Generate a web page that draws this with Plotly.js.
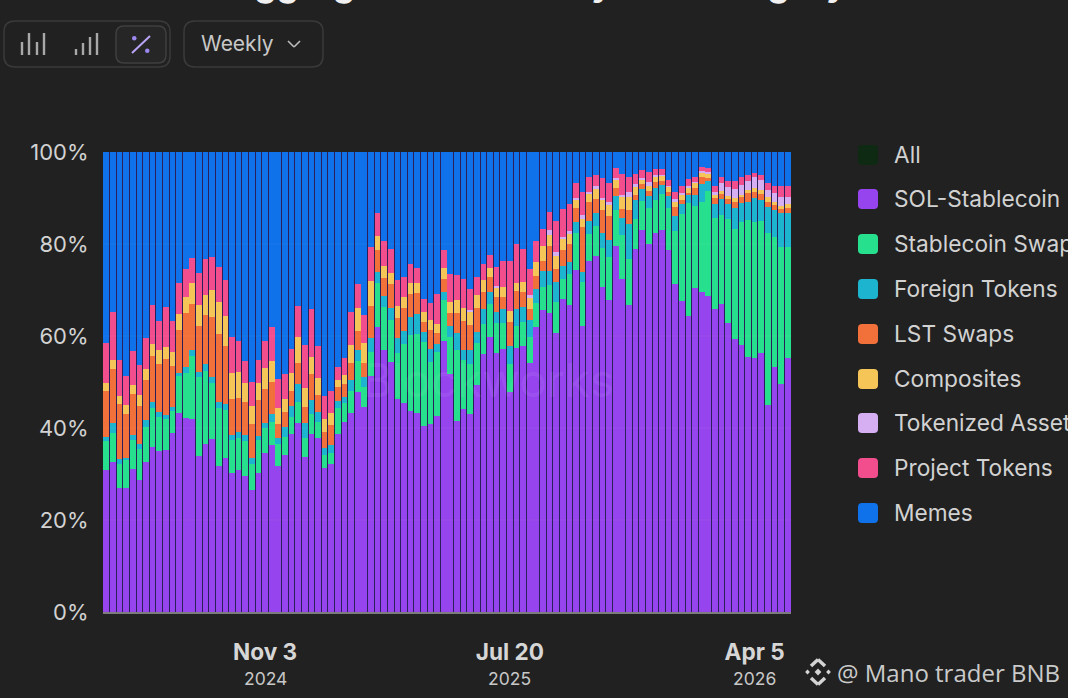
<!DOCTYPE html>
<html>
<head>
<meta charset="utf-8">
<script src="https://cdn.plot.ly/plotly-3.0.1.min.js"></script>
<style>html,body{margin:0;padding:0;background:#212121;overflow:hidden}#chart{width:1068px;height:698px}</style>
</head>
<body>
<div id="chart"></div>
<script>
const firstWeek = '2024-05-19';
const tickDates = ['2024-11-03', '2025-07-20', '2026-04-05'];
const tickMonthDay = ['Nov 3', 'Jul 20', 'Apr 5'];
const tickYears = ['2024', '2025', '2026'];
const percentTicks = [0, 20, 40, 60, 80, 100];
const percentLabels = ['0%', '20%', '40%', '60%', '80%', '100%'];
const seriesNames = ['SOL-Stablecoin', 'Stablecoin Swaps', 'Foreign Tokens', 'LST Swaps', 'Composites', 'Tokenized Assets', 'Project Tokens', 'Memes'];
const seriesColors = ['#9645EE', '#27E08D', '#1DB4CF', '#F2703A', '#F5C558', '#D6AEF2', '#F24E8D', '#0F72EA'];

const solStablecoin = [30.9,32.7,26.9,27.0,31.0,28.8,32.7,35.8,35.1,35.2,38.8,43.2,42.1,41.9,33.9,36.5,37.5,31.7,33.6,30.1,30.9,29.6,26.5,30.1,34.5,36.2,31.8,34.1,38.7,41.2,33.8,38.6,37.9,31.2,32.3,38.6,41.2,43.2,47.8,44.6,51.4,62.0,57.0,54.3,46.3,45.4,43.7,43.2,40.5,40.9,42.6,59.0,51.7,41.5,44.1,43.0,49.3,56.0,59.9,56.4,57.2,47.8,57.3,57.8,54.1,62.0,65.7,64.9,60.6,68.2,66.7,74.3,62.2,76.2,77.5,70.7,67.8,79.6,72.5,66.9,78.9,83.0,80.1,82.5,83.0,78.6,71.2,67.6,64.3,70.5,69.4,68.7,65.9,66.9,62.6,59.3,58.0,55.5,55.1,56.4,45.0,53.3,49.6,55.1];
const stablecoinSwaps = [6.2,6.4,5.2,6.0,6.5,6.6,7.6,8.5,7.4,6.7,4.9,8.0,9.8,13.6,17.2,15.9,12.2,12.5,10.4,7.2,6.9,7.6,5.6,7.2,5.4,5.0,4.6,4.0,3.6,4.6,4.1,4.3,3.3,2.9,2.2,5.7,4.1,4.9,6.7,4.3,5.2,9.4,9.4,9.2,10.1,12.9,16.5,17.2,18.3,13.6,13.8,8.8,8.2,15.4,10.7,10.9,9.1,6.5,7.1,6.5,5.8,6.2,4.9,5.1,5.7,5.2,5.1,6.0,6.9,4.3,6.7,8.0,9.6,5.9,6.5,8.5,9.4,7.8,9.6,10.0,6.5,6.4,7.8,7.0,7.8,9.2,11.6,18.8,24.6,17.8,19.6,22.9,19.7,19.3,22.6,23.8,26.8,29.7,29.7,28.6,37.5,28.3,29.6,24.1];
const foreignTokens = [0.9,2.0,1.1,0.5,0.9,1.1,1.4,1.4,1.1,1.0,0.9,0.7,1.4,1.4,1.1,1.4,1.4,1.3,1.2,1.2,1.3,1.3,1.3,0.9,1.2,1.8,1.3,2.2,2.4,3.8,3.1,3.1,2.2,1.6,1.8,1.6,1.4,2.4,2.5,2.2,2.9,2.5,2.4,2.5,3.2,2.8,3.8,4.3,2.2,2.8,1.8,1.8,2.4,3.8,2.2,3.2,2.5,3.3,2.7,2.3,3.0,3.8,3.7,3.3,3.6,3.0,3.3,3.0,4.2,2.9,2.7,2.4,2.2,2.9,2.8,3.3,3.5,3.1,3.7,7.5,4.0,2.5,2.5,2.7,2.0,2.7,3.3,2.2,1.7,2.4,3.9,2.1,3.0,3.6,3.4,4.7,4.1,4.0,5.1,4.6,5.7,5.8,7.5,7.5];
const lstSwaps = [10.1,11.8,12.0,9.6,9.1,8.3,8.7,9.9,10.4,12.0,8.8,9.3,11.6,10.0,9.9,10.7,13.0,14.8,12.7,7.8,7.4,7.0,7.5,7.8,7.3,7.0,3.1,3.3,3.4,4.6,3.6,5.6,3.8,3.3,4.5,3.1,2.9,3.6,4.1,2.9,7.1,4.7,3.8,5.4,4.4,4.9,5.1,4.6,2.2,4.1,2.3,2.7,2.7,4.3,6.4,5.3,5.2,3.8,3.1,3.3,2.7,5.4,3.8,3.4,2.5,2.9,2.2,5.4,2.9,3.3,3.8,3.0,9.6,4.2,3.0,4.9,5.2,1.7,2.0,3.0,1.2,1.1,1.1,1.2,0.9,0.7,1.9,0.9,0.4,1.4,1.5,0.8,1.3,1.1,0.9,1.3,1.3,1.8,1.3,1.2,1.1,1.1,0.8,1.1];
const composites = [1.7,2.0,1.8,1.8,1.8,2.4,2.5,2.5,3.0,2.8,3.1,3.6,3.6,4.6,4.6,4.3,5.9,7.1,6.5,5.6,5.8,4.3,3.8,3.8,4.6,4.5,3.6,2.8,3.8,5.6,4.1,3.8,3.6,2.9,2.4,1.4,1.8,4.0,4.9,4.5,5.4,3.1,2.8,2.4,2.5,2.4,2.3,2.3,2.2,2.2,2.0,2.4,2.4,2.8,2.7,2.9,2.8,2.4,2.1,2.0,2.0,2.2,1.8,2.0,2.3,3.0,3.3,2.5,2.9,2.4,2.2,1.8,1.9,1.6,2.1,2.2,2.5,1.7,2.4,2.9,1.6,0.9,1.2,1.1,1.0,1.1,1.2,1.1,1.1,1.1,0.9,0.9,0.7,0.7,0.7,0.9,0.5,0.7,0.9,0.9,0.9,0.7,0.7,0.7];
const tokenizedAssets = [0,0,0,0,0,0,0,0,0,0,0,0,0,0,0,0,0,0,0,0,0,0,0,0,0,0,0,0,0,0,0,0,0,0,0,0,0,0,0,0,0,0,0,0,0,0,0,0,0,0,0,0,0,0,0,0.4,0,0,0,0.4,0.2,0.2,0.1,0.1,0.6,0,0,1.1,0.7,0.4,0.7,0.5,0.7,0.4,0.7,0.4,0.7,0.5,0.5,1.1,0.7,0.5,0.7,0.5,0.4,0.4,0.5,0.5,0.6,0.2,0.5,0.4,0.6,1.7,2.0,1.9,2.2,2.0,2.3,2.3,1.7,1.8,2.0,1.7];
const projectTokens = [8.6,10.4,7.8,6.4,7.4,6.5,6.7,8.5,6.4,8.6,6.7,6.8,6.0,5.3,7.0,7.8,7.1,7.6,7.9,7.8,6.7,4.7,5.2,4.9,5.8,7.5,6.2,5.4,5.3,6.9,9.3,10.4,7.1,5.0,4.9,2.9,3.8,7.2,5.4,6.0,7.4,5.0,5.4,5.1,5.7,4.3,4.2,3.1,2.8,3.6,6.5,4.0,6.1,5.4,6.3,4.6,4.0,3.6,2.8,4.0,5.6,10.8,8.5,7.1,5.7,4.6,3.8,3.8,6.8,6.2,6.0,3.1,5.2,3.3,2.5,4.3,4.1,2.2,4.6,3.3,2.2,1.7,2.2,1.3,1.1,1.2,1.5,1.5,1.4,1.2,0.9,0.9,1.4,1.3,1.4,1.6,1.7,1.3,0.9,1.1,1.4,1.6,2.3,2.3];
const memes = [41.6,34.9,45.2,48.6,43.3,46.3,40.4,33.3,36.7,33.7,36.7,28.4,25.5,23.1,26.2,23.3,22.8,24.9,27.8,40.1,41.1,45.4,50.1,45.2,41.1,38.0,49.3,48.3,42.8,33.5,42.0,34.1,42.1,53.0,52.0,46.7,44.7,34.7,28.6,35.4,20.6,13.2,19.3,21.1,27.8,27.2,24.3,25.3,32.0,32.9,30.9,21.3,26.6,26.7,27.7,29.8,27.1,24.3,22.4,25.1,23.7,23.7,19.9,21.1,25.4,19.3,16.7,13.1,15.0,12.4,11.2,6.8,8.6,5.5,4.9,5.7,6.7,3.4,4.8,5.4,4.8,3.9,4.4,3.7,3.8,6.1,8.8,7.3,5.9,5.4,3.2,3.4,7.3,5.4,6.2,6.4,5.4,5.0,4.6,4.9,6.8,7.4,7.4,7.4];
const seriesValues = [solStablecoin, stablecoinSwaps, foreignTokens, lstSwaps, composites, tokenizedAssets, projectTokens, memes];

const weeks = solStablecoin.map((_, i) => {
  const d = new Date(firstWeek + 'T00:00:00Z');
  d.setUTCDate(d.getUTCDate() + 7 * i);
  return d.toISOString().slice(0, 10);
});

const FONT = 'Inter, "Liberation Sans", sans-serif';
const BG = '#212121';
const PL = 103, PR = 791, PT = 152, PB = 612;
const fx = p => (p - PL) / (PR - PL);
const fy = p => (PB - p) / (PB - PT);

function rr(x, y, w, h, r) {
  const X = a => fx(a).toFixed(5), Y = a => fy(a).toFixed(5);
  return `M${X(x + r)},${Y(y)} L${X(x + w - r)},${Y(y)} Q${X(x + w)},${Y(y)} ${X(x + w)},${Y(y + r)} L${X(x + w)},${Y(y + h - r)} Q${X(x + w)},${Y(y + h)} ${X(x + w - r)},${Y(y + h)} L${X(x + r)},${Y(y + h)} Q${X(x)},${Y(y + h)} ${X(x)},${Y(y + h - r)} L${X(x)},${Y(y + r)} Q${X(x)},${Y(y)} ${X(x + r)},${Y(y)} Z`;
}
function pathShape(d, fill, line, width) {
  return {type: 'path', xref: 'paper', yref: 'paper', path: d, fillcolor: fill || 'rgba(0,0,0,0)', line: {color: line || 'rgba(0,0,0,0)', width: width || 0}, layer: 'above'};
}
function seg(x0, y0, x1, y1, color, width) {
  return {type: 'line', xref: 'paper', yref: 'paper', x0: fx(x0), y0: fy(y0), x1: fx(x1), y1: fy(y1), line: {color, width}, layer: 'above'};
}
function label(text, x, y, size, color, anchor, family, weight) {
  return {xref: 'paper', yref: 'paper', x: fx(x), y: fy(y), text, showarrow: false, xanchor: anchor || 'left', yanchor: 'middle', font: {family: family || FONT, size, color, weight: weight || 400}};
}

const traces = seriesNames.map((name, k) => ({
  type: 'bar', name, x: weeks, y: seriesValues[k],
  marker: {color: seriesColors[k], line: {width: 0}},
  hoverinfo: 'x+y+name'
}));

const shapes = [], annotations = [];

// faint grid over the bars
[20, 40, 60, 80].forEach(v => shapes.push({type: 'line', xref: 'paper', yref: 'y', x0: 0, x1: 1, y0: v, y1: v, line: {color: 'rgba(255,255,255,0.05)', width: 1}, layer: 'above'}));

// legend
const legendY = [155, 199, 244, 289, 334, 379, 423, 468, 513];
const legendNames = ['All'].concat(seriesNames);
const legendColors = ['#0F2A12'].concat(seriesColors);
legendNames.forEach((n, i) => {
  shapes.push(pathShape(rr(858, legendY[i] - 10, 20, 20, 4), legendColors[i]));
  annotations.push(label(n, 892, legendY[i] - 0.8, 22.7, '#D2D2D2'));
});

// toolbar
shapes.push(pathShape(rr(4, 21, 166, 46, 11), 'rgba(0,0,0,0)', '#3A3A3A', 1.5));
shapes.push(pathShape(rr(116, 26, 50, 37, 8), '#262626', '#3F3F3F', 1.5));
shapes.push(pathShape(rr(184, 21, 139, 46, 11), 'rgba(0,0,0,0)', '#3A3A3A', 1.5));
[[22, 42], [29, 33], [37, 42], [44, 33]].forEach(b => shapes.push(seg(b[0], b[1], b[0], 55, '#A8A8A8', 2.4)));
[[76, 49], [83, 43], [90, 37], [97, 33]].forEach(b => shapes.push(seg(b[0], b[1], b[0], 55, '#A8A8A8', 2.4)));
shapes.push(seg(132, 53, 150, 36, '#B9A4F5', 2));
shapes.push({type: 'circle', xref: 'paper', yref: 'paper', x0: fx(132), x1: fx(136.5), y0: fy(36), y1: fy(40.5), fillcolor: '#9C86F0', line: {width: 0}, layer: 'above'});
shapes.push({type: 'circle', xref: 'paper', yref: 'paper', x0: fx(145), x1: fx(149.5), y0: fy(48.5), y1: fy(53), fillcolor: '#9C86F0', line: {width: 0}, layer: 'above'});
shapes.push(seg(288, 41, 294, 47, '#BDBDBD', 1.6));
shapes.push(seg(294, 47, 300, 41, '#BDBDBD', 1.6));
annotations.push(label('Weekly', 199, 43.5, 21, '#C8C8C8'));

// title, clipped by the top edge as in the reference
annotations.push(label('Solana DEX Aggregator Volume by', 22, -17, 35, '#F0F0F0', 'left', FONT, 700));
annotations.push(label('Category', 849, -17, 35, '#F0F0F0', 'right', FONT, 700));

// watermark
annotations.push(label('Blockworks', 488, 380, 46, 'rgba(255,255,255,0.08)', 'center'));

// x-axis years
tickYears.forEach((t, i) => annotations.push({xref: 'x', yref: 'paper', x: tickDates[i], y: fy(678), text: t, showarrow: false, xanchor: 'center', yanchor: 'middle', font: {family: FONT, size: 17.5, color: '#C8C8C8'}}));

// footer with logo
const dia = (cx, cy, r) => `M${fx(cx - r)},${fy(cy)} L${fx(cx)},${fy(cy - r)} L${fx(cx + r)},${fy(cy)} L${fx(cx)},${fy(cy + r)} Z`;
shapes.push(pathShape(dia(818, 672, 3.4), '#D4D4D4'));
shapes.push(pathShape(dia(807.5, 672, 2.4), '#D4D4D4'));
shapes.push(pathShape(dia(828.5, 672, 2.4), '#D4D4D4'));
shapes.push(seg(811, 666, 818, 659.5, '#D4D4D4', 3.4));
shapes.push(seg(818, 659.5, 825, 666, '#D4D4D4', 3.4));
shapes.push(seg(811, 678, 818, 684.5, '#D4D4D4', 3.4));
shapes.push(seg(818, 684.5, 825, 678, '#D4D4D4', 3.4));
annotations.push(label('@ Mano trader BNB', 835, 672, 24, '#CACACA', 'left', '"Open Sans", "Noto Sans", sans-serif'));

const layout = {
  width: 1068, height: 698,
  paper_bgcolor: BG, plot_bgcolor: '#2A1F58',
  margin: {l: PL, r: 1068 - PR, t: PT, b: 698 - PB, pad: 0},
  barmode: 'stack', barnorm: 'percent', bargap: 0.145,
  showlegend: false,
  font: {family: FONT, color: '#D2D2D2'},
  xaxis: {
    type: 'date',
    range: ['2024-05-15 12:00', '2026-05-13 12:00'],
    tickmode: 'array', tickvals: tickDates,
    ticktext: tickMonthDay.map(t => `<b>${t}</b>`),
    tickfont: {family: FONT, size: 22.6, color: '#D6D6D6'},
    ticks: 'outside', ticklen: 19, tickcolor: 'rgba(0,0,0,0)', tickwidth: 0,
    showgrid: false, zeroline: false,
    showline: true, linecolor: '#7C7C7C', linewidth: 2, layer: 'above traces', fixedrange: true
  },
  yaxis: {
    range: [0, 100],
    tickmode: 'array', tickvals: percentTicks, ticktext: percentLabels,
    tickfont: {family: FONT, size: 22, color: '#D2D2D2'},
    ticks: 'outside', ticklen: 9, tickcolor: 'rgba(0,0,0,0)', tickwidth: 0,
    showgrid: false, zeroline: false, showline: false, fixedrange: true
  },
  shapes, annotations
};

Plotly.newPlot('chart', traces, layout, {displayModeBar: false, staticPlot: true});
</script>
</body>
</html>
